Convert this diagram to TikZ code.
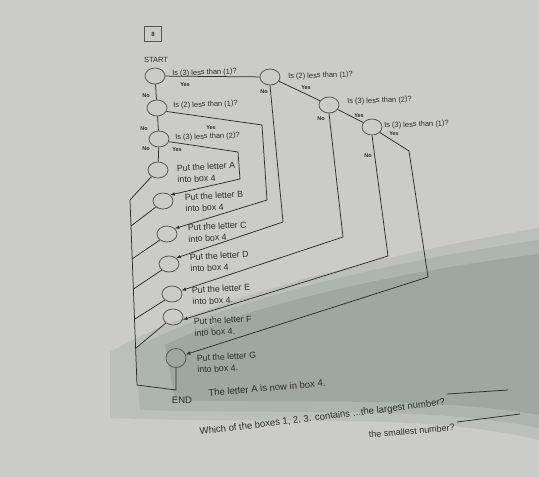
\documentclass[tikz,border=0pt]{standalone}
\usepackage{fontspec}
\setmainfont{Liberation Sans}
\usetikzlibrary{shapes.geometric,arrows.meta,calc}
\definecolor{paper}{RGB}{203,204,201}
\definecolor{shadowc}{RGB}{125,140,134}
\definecolor{ink}{RGB}{45,45,45}
\begin{document}
\begin{tikzpicture}[x=1pt,y=-1pt,
  dec/.style={ellipse,draw=ink!80,line width=0.8pt,minimum width=20pt,minimum height=16pt,inner sep=0pt},
  ln/.style={draw=ink,line width=0.75pt},
  arr/.style={ln,-{Latex[length=4.5pt,width=3.5pt]}},
  qtext/.style={font=\fontsize{7.5}{8}\selectfont,text=ink,inner sep=0pt,anchor=west,rotate=2},
  yn/.style={font=\fontsize{5.5}{6}\selectfont\bfseries,text=ink,inner sep=0pt},
  leaf/.style={font=\fontsize{8.8}{11.5}\selectfont,text=ink,align=left,anchor=west,inner sep=0pt,rotate=3},
  big/.style={font=\fontsize{9.5}{11}\selectfont,text=ink,inner sep=0pt}
]
\useasboundingbox (0,0) rectangle (539,477);
\fill[paper] (0,0) rectangle (539,477);
% shadow on the paper (soft edges by layering)
\fill[shadowc,opacity=0.18] (110,352) .. controls (200,300) and (380,255) .. (539,228) -- (539,440) .. controls (420,412) and (300,425) .. (110,418) -- cycle;
\fill[shadowc,opacity=0.22] (135,348) .. controls (220,302) and (385,262) .. (539,240) -- (539,428) .. controls (425,405) and (300,415) .. (140,410) -- cycle;
\fill[shadowc,opacity=0.32] (165,345) .. controls (245,306) and (395,272) .. (539,254) -- (539,415) .. controls (430,396) and (300,404) .. (175,400) -- cycle;

% number box and start
\node[draw=ink!80,line width=0.6pt,minimum width=17pt,minimum height=15pt,inner sep=0pt,font=\fontsize{6}{6}\selectfont\bfseries,text=ink] (box) at (153,34) {8};
\node[font=\fontsize{7.5}{8}\selectfont,text=ink,inner sep=0pt] (start) at (156,60) {START};

% decision / action circles
\node[dec] (c1) at (155,76) {};
\node[dec] (c2) at (157,108) {};
\node[dec] (c3) at (159,139) {};
\node[dec] (cA) at (158,170) {};
\node[dec] (cB) at (163,201) {};
\node[dec] (cC) at (167,234) {};
\node[dec] (cD) at (169,264) {};
\node[dec] (cE) at (172,294) {};
\node[dec] (cF) at (173,317) {};
\node[dec,minimum height=19pt] (cG) at (176,358) {};
\node[dec] (c4) at (270,77) {};
\node[dec] (c5) at (329,105) {};
\node[dec] (c6) at (372,127) {};

% questions
\node[qtext] (q1) at (172,74) {Is (3) less than (1)?};
\node[yn] (y1) at (185,85) {Yes};
\node[yn] (n1) at (146,96) {No};
\node[qtext] (q2) at (173,106) {Is (2) less than (1)?};
\node[yn] (y2) at (211,128) {Yes};
\node[yn] (n2) at (144,129) {No};
\node[qtext] (q3) at (175,138) {Is (3) less than (2)?};
\node[yn] (y3) at (177,150) {Yes};
\node[yn] (n3) at (146,149) {No};
\node[qtext] (q4) at (288,77) {Is (2) less than (1)?};
\node[yn] (y4) at (306,88) {Yes};
\node[yn] (n4) at (264,92) {No};
\node[qtext] (q5) at (347,102) {Is (3) less than (2)?};
\node[yn] (y5) at (359,116) {Yes};
\node[yn] (n5) at (321,119) {No};
\node[qtext] (q6) at (384,126) {Is (3) less than (1)?};
\node[yn] (y6) at (394,134) {Yes};
\node[yn] (n6) at (368,156) {No};

% actions
\node[leaf] (tA) at (177,174) {Put the letter A\\into box 4};
\node[leaf] (tB) at (185,203) {Put the letter B\\into box 4};
\node[leaf] (tC) at (188,233.5) {Put the letter C\\into box 4};
\node[leaf] (tD) at (190,263) {Put the letter D\\into box 4};
\node[leaf] (tE) at (192,296) {Put the letter E\\into box 4.};
\node[leaf] (tF) at (194,327.5) {Put the letter F\\into box 4.};
\node[leaf] (tG) at (197,364) {Put the letter G\\into box 4.};

% main spine
\draw[ln] (c1) -- (c4);
\draw[ln] (c1) -- (c2);
\draw[ln] (c2) -- (c3);
\draw[ln] (c3) -- (cA);
\draw[ln] (c4) -- (c5);
\draw[ln] (c5) -- (c6);

% branches to actions
\coordinate (k2a) at (262,125); \coordinate (k2b) at (267,200);
\draw[arr] (c2.-20) -- (k2a) -- (k2b) -- (cC.35);
\coordinate (k3a) at (238,152); \coordinate (k3b) at (240,179);
\draw[arr] (c3.-15) -- (k3a) -- (k3b) -- (cB.40);
\coordinate (k4) at (283,222);
\draw[arr] (c4.south) -- (k4) -- (cD.40);
\coordinate (k5) at (343,237);
\draw[arr] (c5.south) -- (k5) -- (cE.20);
\coordinate (k6) at (388,256);
\draw[arr] (c6.south) -- (k6) -- (cF.-15);
\coordinate (k7a) at (409,151); \coordinate (k7b) at (428,277);
\draw[arr] (c6.-35) -- (k7a) -- (k7b) -- (cG.20);

% return collector to END
\coordinate (jA) at (130,200);
\coordinate (jB) at (131,226);
\coordinate (jC) at (132,259);
\coordinate (jD) at (133.5,289);
\coordinate (jE) at (135,319);
\coordinate (jF) at (136,348);
\coordinate (jEnd) at (137,385);
\coordinate (endc) at (176,390);
\draw[ln] (cA.225) -- (jA) -- (jEnd) -- (endc) -- (cG.south);
\draw[ln] (cB.220) -- (jB);
\draw[ln] (cC.220) -- (jC);
\draw[ln] (cD.220) -- (jD);
\draw[ln] (cE.220) -- (jE);
\draw[ln] (cF.220) -- (jF);

% bottom texts
\node[big] (endt) at (182,400) {END};
\node[big,rotate=5] (tnow) at (267,388) {The letter A is now in box 4.};
\node[big,rotate=7,anchor=base west] (qq1a) at (200,435) {Which of the boxes 1, 2, 3. contains};
\node[big,rotate=7,anchor=base west] (qq1b) at ($(qq1a.base east)+(2.6,-0.3)$) {...the largest number?};
\node[big,font=\fontsize{9}{10}\selectfont,rotate=5,anchor=base west] (qq2) at (369,438) {the smallest number?};
\coordinate (a1s) at (447,394); \coordinate (a1e) at (508,390);
\coordinate (a2s) at (457,422); \coordinate (a2e) at (520,414);
\draw[ln] (a1s) -- (a1e);
\draw[ln] (a2s) -- (a2e);
\end{tikzpicture}
\end{document}
